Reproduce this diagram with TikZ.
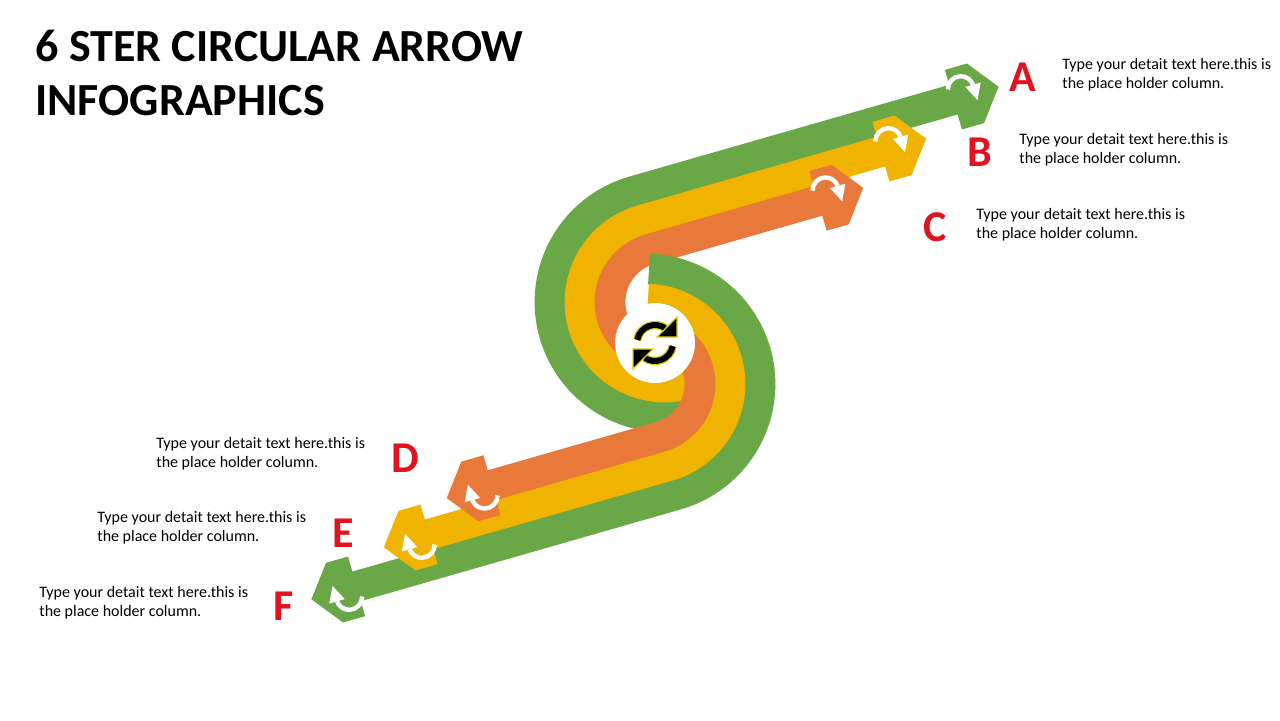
\documentclass[tikz,border=0pt]{standalone}
\usepackage{fontspec}
\setmainfont{Carlito}
\usetikzlibrary{arrows.meta}
\definecolor{bandG}{HTML}{6AA746}
\definecolor{bandY}{HTML}{F0B400}
\definecolor{bandO}{HTML}{E8793A}
\definecolor{lett}{HTML}{E0141E}
\newcommand\myhalf[1]{%
 \foreach \r/\L/\c/\n in {115/334/bandG/g,85/250/bandY/y,55/176/bandO/o}{%
  \draw[line width=15.4pt,\c] ([shift={(#1:\r)}]665,418) arc[start angle=#1,end angle=106,radius=\r] -- ++(16:\L) coordinate (e\n);
  \begin{scope}[shift={(e\n)},rotate=16]
   \fill[\c] (-1,-31) -- (22,-31) -- (46,0) -- (22,31) -- (-1,31) -- cycle;
   \draw[white,line width=2.2pt] (9,8) ++(165:13) arc[start angle=165,end angle=5,radius=13];
   \fill[white] (14,9) -- (30,9) -- (22,-7) -- cycle;
  \end{scope}}}
\tikzset{desc/.style={anchor=north west,align=left,font=\fontsize{8}{9.6}\selectfont,inner sep=0pt},
 letter/.style={font=\fontsize{22}{22}\bfseries\selectfont,text=lett},
 icon/.style={line width=3pt,black}}
\begin{document}
\begin{tikzpicture}[x=0.5pt,y=0.5pt]
\useasboundingbox[fill=white] (0,0) rectangle (1280,720);
\node[anchor=north west,align=left,inner sep=0pt,font=\fontsize{23}{27}\bfseries\selectfont] (title) at (35,690) {6 STER CIRCULAR ARROW\\INFOGRAPHICS};
\myhalf{300}
\begin{scope}[rotate around={180:(655,377)}]
\myhalf{268}
\end{scope}
\node[circle,fill=white,minimum size=40pt,inner sep=0pt] (ctr) at (655,377) {};
\begin{scope}[shift={(ctr.center)}]
 \foreach \a in {0,180}{
  \begin{scope}[rotate=\a]
   \draw[icon,draw=yellow!70!olive,line width=4.2pt] (170:18) arc[start angle=170,end angle=55,radius=18];
   \draw[icon] (170:18) arc[start angle=170,end angle=55,radius=18];
   \filldraw[black,draw=yellow!70!olive,line width=0.6pt] (22,26) -- (22,6) -- (2,6) -- cycle;
  \end{scope}}
\end{scope}
\node[letter] (A) at (1023,643) {A};
\node[letter] (B) at (980,568) {B};
\node[letter] (C) at (935,493) {C};
\node[letter] (D) at (405,262) {D};
\node[letter] (E) at (343,187) {E};
\node[letter] (F) at (284,114) {F};
\node[desc] (tA) at (1062,662) {Type your detait text here.this is\\the place holder column.};
\node[desc] (tB) at (1019,587) {Type your detait text here.this is\\the place holder column.};
\node[desc] (tC) at (976,512) {Type your detait text here.this is\\the place holder column.};
\node[desc] (tD) at (156,283) {Type your detait text here.this is\\the place holder column.};
\node[desc] (tE) at (97,209) {Type your detait text here.this is\\the place holder column.};
\node[desc] (tF) at (39,134) {Type your detait text here.this is\\the place holder column.};
\end{tikzpicture}
\end{document}
